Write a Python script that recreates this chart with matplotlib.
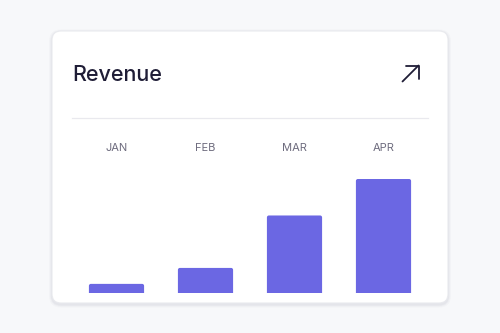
import matplotlib
matplotlib.use('Agg')
import matplotlib.pyplot as plt
from matplotlib.patches import FancyBboxPatch

months = ['JAN', 'FEB', 'MAR', 'APR']
revenue = [8, 22, 68, 100]

bg = '#f7f8fa'
bar_color = '#6b67e3'
title_color = '#1f1d36'
label_color = '#6e6c7e'

W, H = 500, 333
fig = plt.figure(figsize=(W / 100, H / 100), dpi=100, facecolor=bg)

# full-figure axes in pixel units for the card, divider and icon
bg_ax = fig.add_axes([0, 0, 1, 1], zorder=0)
bg_ax.set_xlim(0, W)
bg_ax.set_ylim(H, 0)
bg_ax.axis('off')

# soft shadow under the card
for i, a in enumerate([0.02, 0.025, 0.035]):
    s = 3 - i
    bg_ax.add_patch(FancyBboxPatch((52 - s, 31 - s + 1.5), 396 + 2 * s, 272 + 2 * s,
                                   boxstyle='round,pad=0,rounding_size=%d' % (9 + s),
                                   facecolor='#101030', edgecolor='none', alpha=a))
bg_ax.add_patch(FancyBboxPatch((52, 31), 396, 272, boxstyle='round,pad=0,rounding_size=9',
                               facecolor='white', edgecolor='#e9eaee', linewidth=0.8))

bg_ax.text(72, 75, 'Revenue', fontsize=15.5, family='Inter', fontweight='medium',
           color=title_color, va='center', ha='left')
bg_ax.plot([72, 428], [118, 118], color='#e9e9ee', lw=0.9)

# arrow icon
arrow_kw = dict(color=title_color, lw=1.3, solid_capstyle='round', solid_joinstyle='round')
bg_ax.plot([402.5, 418.5], [81.5, 65.5], **arrow_kw)
bg_ax.plot([405.5, 418.5, 418.5], [65.5, 65.5, 78.5], **arrow_kw)

# bar chart
ax = fig.add_axes([72 / W, (H - 293) / H, 356 / W, 114 / H], zorder=1)
ax.patch.set_alpha(0)
bars = ax.bar(range(len(months)), revenue, width=0.62, color=bar_color, linewidth=0)
ax.set_xlim(-0.5, len(months) - 0.5)
ax.set_ylim(0, max(revenue))

# swap in bars with slightly rounded tops
for b in bars:
    b.set_visible(False)
    ax.add_patch(FancyBboxPatch((b.get_x(), -5), b.get_width(), b.get_height() + 5,
                                boxstyle='round,pad=0,rounding_size=0.022',
                                mutation_aspect=78, facecolor=bar_color, edgecolor='none'))

ax.xaxis.tick_top()
ax.set_xticks(range(len(months)))
ax.set_xticklabels(months, fontsize=8, family='Inter', color=label_color)
ax.tick_params(axis='x', length=0, pad=18.5)
ax.set_yticks([])
for sp in ax.spines.values():
    sp.set_visible(False)

fig.savefig('out.png', dpi=100, facecolor=bg)
